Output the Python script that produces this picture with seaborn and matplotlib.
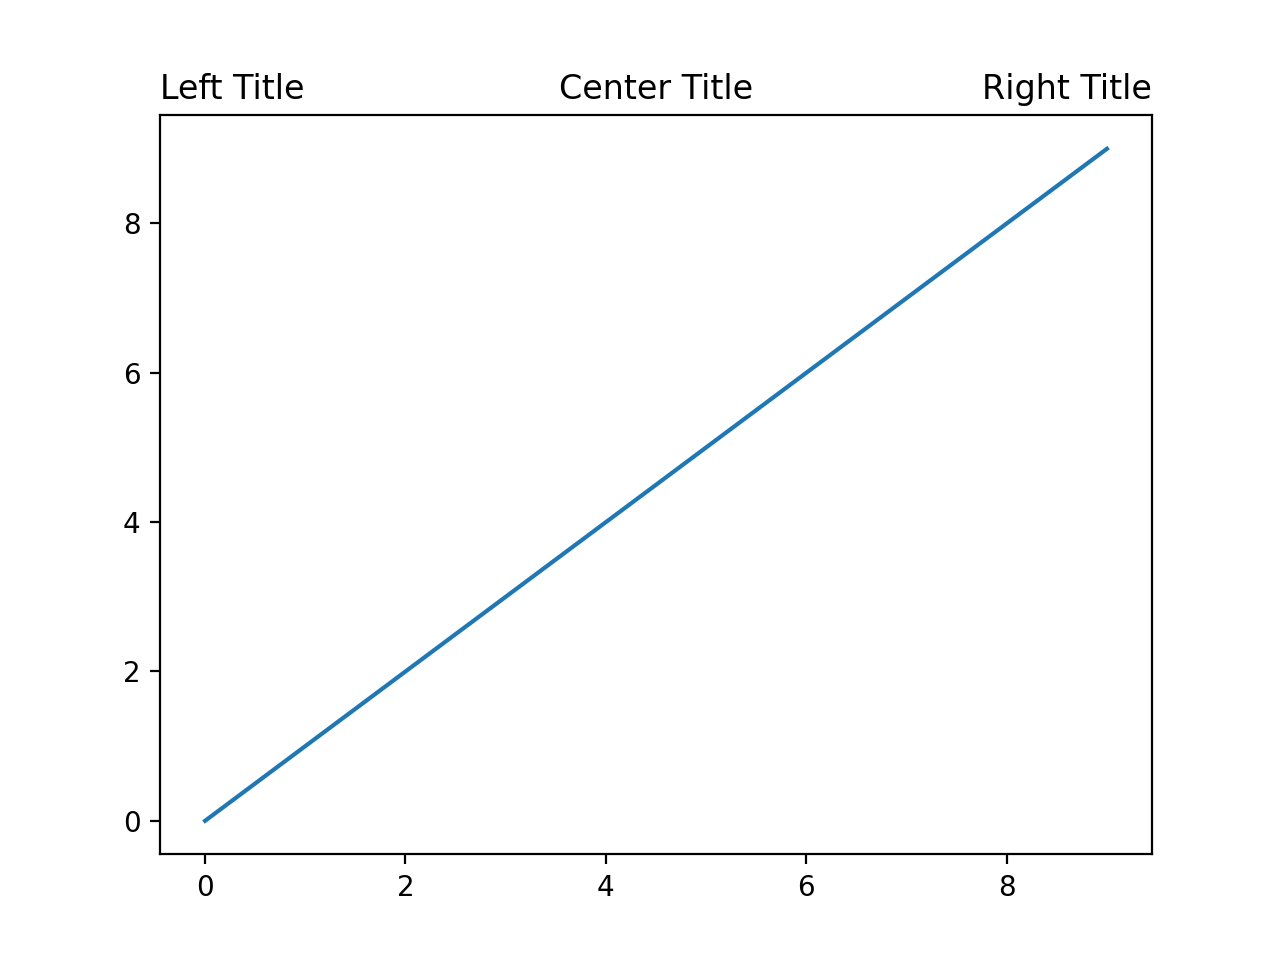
import matplotlib
matplotlib.use("Agg")
import matplotlib.pyplot as plt
import seaborn as sns

# -------------------------------
# Data
# -------------------------------
x_values = [0, 1, 2, 3, 4, 5, 6, 7, 8, 9]
y_values = [0, 1, 2, 3, 4, 5, 6, 7, 8, 9]

# -------------------------------
# Plot with three title positions
# -------------------------------
fig, ax = plt.subplots(figsize=(6.4, 4.8), dpi=200)
sns.lineplot(x=x_values, y=y_values, ax=ax, color="#1f77b4")

ax.set_title("Center Title")
ax.set_title("Left Title", loc="left")
ax.set_title("Right Title", loc="right")

fig.savefig("out.png", dpi=200)
